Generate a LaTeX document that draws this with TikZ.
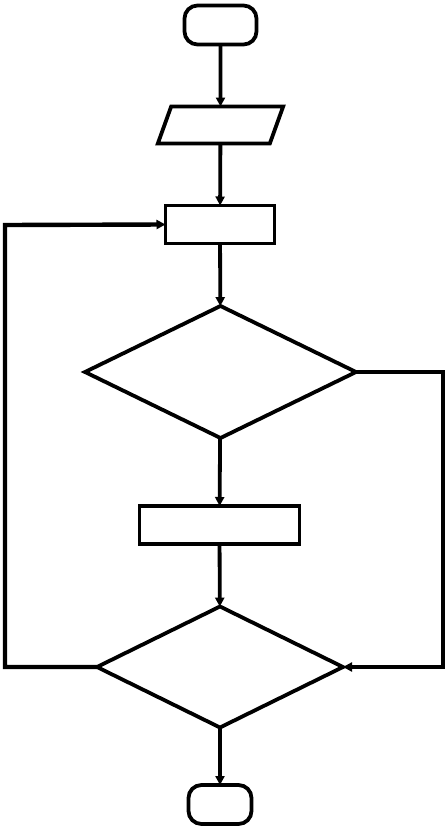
\documentclass[tikz,border=0pt]{standalone}
\usetikzlibrary{shapes.geometric,arrows.meta}
\begin{document}
\begin{tikzpicture}[x=1pt,y=-1pt,
  every node/.style={draw=black,line width=3.8pt,fill=white,inner sep=0pt,outer sep=0pt},
  term/.style={rectangle,rounded corners=13pt,minimum width=#1,minimum height=39pt},
  proc/.style={rectangle,minimum width=#1,minimum height=38pt},
  io/.style={rectangle,minimum width=112pt,minimum height=37pt,xslant=0.36},
  dec/.style={diamond,minimum width=#1,minimum height=#1*0.5},
  conn/.style={line width=3.8pt,-{Triangle[length=9pt,width=9pt]}}]
\useasboundingbox (0,0) rectangle (446,830);
\node[term=72pt] (start) at (220.5,25) {};
\node[io] (in) at (220.5,125) {};
\node[proc=109pt] (p1) at (220,224.5) {};
\node[dec=271pt,minimum height=132pt] (d1) at (220.5,372) {};
\node[proc=160pt] (p2) at (219.5,525) {};
\node[dec=246pt,minimum height=121pt] (d2) at (220,667) {};
\node[term=63pt] (end) at (220,804.5) {};
\coordinate (lt) at (5,225);
\coordinate (lb) at (5,667);
\coordinate (rt) at (443,372);
\coordinate (rb) at (443,667);
\draw[conn] (start) -- (in);
\draw[conn] (in) -- (p1);
\draw[conn] (p1) -- (d1);
\draw[conn] (d1) -- (p2);
\draw[conn] (p2) -- (d2);
\draw[conn] (d2) -- (end);
\draw[conn,line width=4.4pt] (d2.west) -- (lb) -- (lt) -- (p1.west);
\draw[conn] (d1.east) -- (rt) -- (rb) -- (d2.east);
\end{tikzpicture}
\end{document}
